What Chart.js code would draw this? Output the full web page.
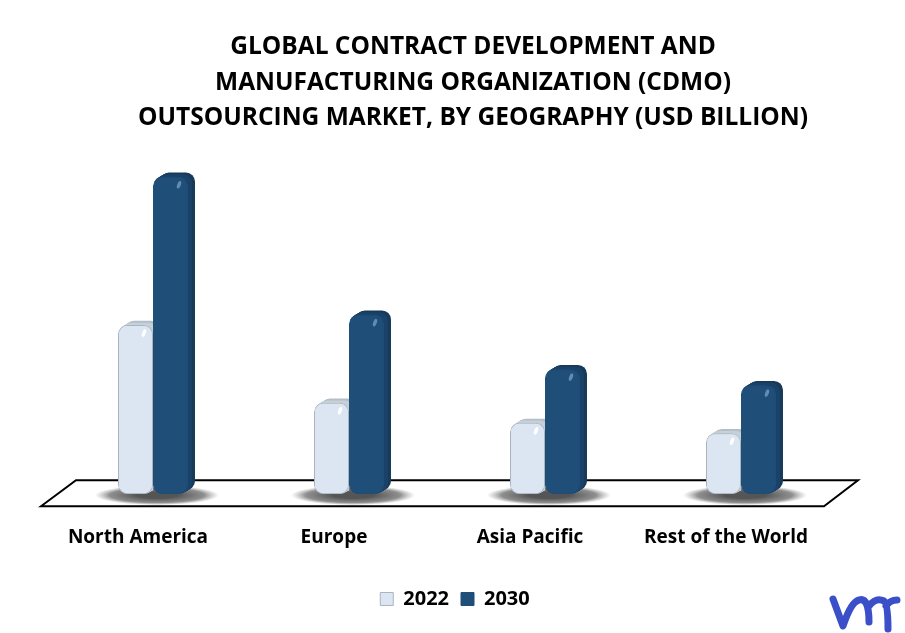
<!DOCTYPE html>
<html>
<head>
<meta charset="utf-8">
<title>CDMO Outsourcing Market</title>
<script src="https://cdn.jsdelivr.net/npm/chart.js@4"></script>
<style>
  html, body { margin: 0; padding: 0; background: #fff; }
  canvas { display: block; }
</style>
</head>
<body>
<canvas id="chart" width="905" height="633"></canvas>
<script>
// values (USD billion, estimated)
const categories = ['North America', 'Europe', 'Asia Pacific', 'Rest of the World'];
const values2022 = [21.1, 11.4, 8.9, 7.6];
const values2030 = [39.6, 22.4, 15.6, 13.6];
const titleLines = [
    'GLOBAL CONTRACT DEVELOPMENT AND',
    'MANUFACTURING ORGANIZATION (CDMO)',
    'OUTSOURCING MARKET, BY GEOGRAPHY (USD BILLION)'
];
const FONT = '"Open Sans", sans-serif';

// the floor, drop shadows and the fake 3D sides of the bars
const depthPlugin = {
    id: 'depth',
    afterLayout(chart) {
        // title and legend are not centred on the plot in the original
        chart.titleBlock.left += 26;
        chart.titleBlock.right += 26;
        chart.legend.left += 8;
        chart.legend.right += 8;
        chart.legend.top += 4;
        chart.legend.bottom += 4;
    },
    beforeDatasetsDraw(chart) {
        const { ctx, chartArea } = chart;
        const b = chartArea.bottom;
        ctx.save();
        ctx.strokeStyle = '#000';
        ctx.lineWidth = 2;
        ctx.beginPath();
        ctx.moveTo(chartArea.left - 14, b + 12);
        ctx.lineTo(chartArea.left + 21, b - 14);
        ctx.lineTo(chartArea.right + 19, b - 14);
        ctx.lineTo(chartArea.right - 15, b + 12);
        ctx.closePath();
        ctx.stroke();
        // shadow under each group
        chart.scales.x.ticks.forEach((t, i) => {
            const cx = chart.scales.x.getPixelForTick(i) + 4;
            ctx.save();
            ctx.translate(cx, b + 1);
            ctx.scale(1, 0.16);
            const g = ctx.createRadialGradient(0, 0, 20, 0, 0, 62);
            g.addColorStop(0, 'rgba(85,85,85,1)');
            g.addColorStop(0.65, 'rgba(115,115,115,0.8)');
            g.addColorStop(1, 'rgba(150,150,150,0)');
            ctx.fillStyle = g;
            ctx.beginPath();
            ctx.arc(0, 0, 62, 0, Math.PI * 2);
            ctx.fill();
            ctx.restore();
        });
        ctx.restore();
    },
    beforeDatasetDraw(chart, args) {
        const { ctx } = chart;
        const light = args.index === 0;
        ctx.save();
        args.meta.data.forEach(bar => {
            const w = bar.width, left = bar.x - w / 2, h = bar.base - bar.y;
            ctx.save();
            if (light) {
                // the dark bar stands in front of the light one's side
                ctx.beginPath();
                ctx.rect(left - 1, 0, w + 1, chart.height);
                ctx.clip();
            }
            for (let i = 7; i >= 1; i--) {
                ctx.fillStyle = light
                    ? (i > 4 ? '#b4bec6' : '#c6d0d8')
                    : (i > 4 ? '#183a5a' : '#1b4268');
                ctx.beginPath();
                ctx.roundRect(left + i, bar.y - i * 0.6, w, h, 9);
                ctx.fill();
            }
            ctx.restore();
        });
        ctx.restore();
    },
    afterDatasetDraw(chart, args) {
        const { ctx } = chart;
        const light = args.index === 0;
        ctx.save();
        args.meta.data.forEach(bar => {
            const right = bar.x + bar.width / 2;
            ctx.fillStyle = light ? '#ffffff' : '#5f8cb0';
            ctx.beginPath();
            ctx.ellipse(right - 9, bar.y + 8, 1.8, 4, 0.35, 0, Math.PI * 2);
            ctx.fill();
        });
        ctx.restore();
    },
    afterDraw(chart) {
        // logo, bottom right
        const { ctx } = chart;
        ctx.save();
        ctx.strokeStyle = '#3b4fc8';
        ctx.lineWidth = 7;
        ctx.lineCap = 'round';
        ctx.lineJoin = 'round';
        ctx.beginPath();
        ctx.moveTo(833, 599);
        ctx.lineTo(843, 626);
        ctx.quadraticCurveTo(851, 602, 859, 600);
        ctx.quadraticCurveTo(869, 597, 869, 622);
        ctx.moveTo(869, 606);
        ctx.quadraticCurveTo(876, 597, 884, 601);
        ctx.quadraticCurveTo(888, 604, 888, 629);
        ctx.moveTo(886, 606);
        ctx.quadraticCurveTo(890, 600, 897, 600);
        ctx.stroke();
        ctx.restore();
    }
};

new Chart(document.getElementById('chart'), {
    type: 'bar',
    data: {
        labels: categories,
        datasets: [
            {
                label: '2022',
                data: values2022,
                backgroundColor: '#dce6f2',
                borderColor: '#aab4be',
                borderWidth: 1,
                borderRadius: 9,
                borderSkipped: false,
                categoryPercentage: 0.357,
                barPercentage: 1
            },
            {
                label: '2030',
                data: values2030,
                backgroundColor: '#1f4e79',
                borderColor: '#1f4e79',
                borderWidth: 1,
                borderRadius: 9,
                borderSkipped: false,
                categoryPercentage: 0.357,
                barPercentage: 1
            }
        ]
    },
    options: {
        responsive: false,
        animation: false,
        layout: { padding: { left: 55, right: 66, top: 29, bottom: 18 } },
        plugins: {
            tooltip: { enabled: false },
            title: {
                display: true,
                text: titleLines,
                color: '#000',
                font: { family: FONT, size: 24.5, weight: '700', lineHeight: 1.46 },
                padding: { top: 0, bottom: 10 }
            },
            legend: {
                position: 'bottom',
                labels: {
                    color: '#000',
                    boxWidth: 13,
                    boxHeight: 13,
                    padding: 12,
                    font: { family: FONT, size: 20, weight: '700' }
                }
            }
        },
        scales: {
            x: {
                grid: { display: false },
                border: { display: false },
                ticks: {
                    color: '#000',
                    padding: 24,
                    labelOffset: -15,
                    maxRotation: 0,
                    font: { family: FONT, size: 19, weight: '700' }
                }
            },
            y: { display: false, min: 0, max: 43.4 }
        }
    },
    plugins: [depthPlugin]
});
</script>
</body>
</html>
